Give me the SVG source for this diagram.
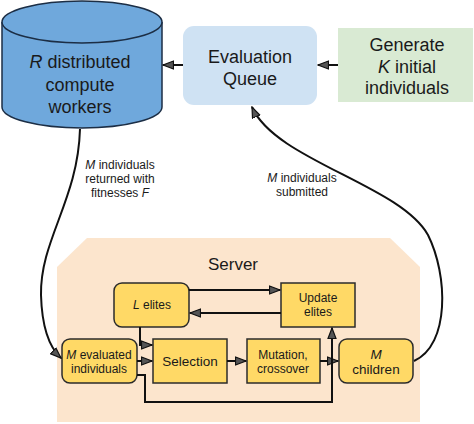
<svg xmlns="http://www.w3.org/2000/svg" width="474" height="424" viewBox="0 0 474 424">
<defs>
<marker id="ah" markerWidth="12" markerHeight="10" refX="11" refY="5" orient="auto" markerUnits="userSpaceOnUse">
<path d="M0.5,1 L11,5 L0.5,9 Z" fill="#555" stroke="#111" stroke-width="1.2"/>
</marker>
</defs>
<style>
text{font-family:"Liberation Sans",Arial,sans-serif;fill:#1a1a1a;text-anchor:middle}
.big{font-size:18px}
.sm{font-size:12px}
.md{font-size:13.5px}
.box{fill:#ffd966;stroke:#2b2b2b;stroke-width:1.5}
.cs{fill:none;stroke:#111;stroke-width:2;marker-end:url(#ah)}
</style>
<rect width="474" height="424" fill="#fff"/>
<g id="server">
<path d="M87,238 L390,238 L420,267 L420,422 L57,422 L57,267 Z" fill="#fce5cd"/>
<text x="233" y="270" style="font-size:17px">Server</text>
</g>
<g id="workers">
<path d="M2,22 L2,107 A80,21 0 0 0 162,107 L162,22" fill="#6fa8dc" stroke="#1c2e45" stroke-width="1.5"/>
<ellipse cx="82" cy="22" rx="80" ry="21" fill="#6fa8dc" stroke="#1c2e45" stroke-width="1.5"/>
<text class="big" x="80" y="68"><tspan font-style="italic">R</tspan> distributed</text>
<text class="big" x="80" y="91">compute</text>
<text class="big" x="80" y="113">workers</text>
</g>
<g id="queue">
<rect x="183" y="26" width="134" height="79" rx="11" fill="#cfe2f3"/>
<text class="big" x="250" y="63">Evaluation</text>
<text class="big" x="250" y="85">Queue</text>
</g>
<g id="generate">
<rect x="338" y="28" width="135" height="74" fill="#d9ead3"/>
<text class="big" x="407" y="51">Generate</text>
<text class="big" x="407" y="73"><tspan font-style="italic">K</tspan> initial</text>
<text class="big" x="407" y="94">individuals</text>
</g>
<g id="lelites">
<rect class="box" x="114" y="283" width="75" height="44" rx="8"/>
<text class="sm" x="152" y="309"><tspan font-style="italic">L</tspan> elites</text>
</g>
<g id="update">
<rect class="box" x="281" y="283" width="74" height="44"/>
<text class="sm" x="318" y="302">Update</text>
<text class="sm" x="318" y="316">elites</text>
</g>
<g id="evaluated">
<rect class="box" x="62" y="339" width="75" height="44" rx="8"/>
<text class="sm" x="99" y="359"><tspan font-style="italic">M</tspan> evaluated</text>
<text class="sm" x="99" y="373">individuals</text>
</g>
<g id="selection">
<rect class="box" x="153" y="339" width="74" height="44"/>
<text class="md" x="190" y="366">Selection</text>
</g>
<g id="mutation">
<rect class="box" x="247" y="339" width="73" height="44"/>
<text class="sm" x="283" y="359">Mutation,</text>
<text class="sm" x="283" y="373">crossover</text>
</g>
<g id="children">
<rect class="box" x="339" y="339" width="74" height="44" rx="8"/>
<text class="md" x="376" y="359" font-style="italic">M</text>
<text class="md" x="376" y="374">children</text>
</g>
<g id="connectors">
<path class="cs" d="M338,65 L318,65"/>
<path class="cs" d="M183,65 L163,65"/>
<path class="cs" d="M80,129 C78,200 40,240 41,295 C42,330 50,348 61,358"/>
<path class="cs" d="M414,361 C450,345 448,275 428,235 C400,185 275,160 252,107"/>
<path class="cs" d="M189,290 L280,290"/>
<path class="cs" d="M281,313 L190,313"/>
<path class="cs" d="M140,327 L140,345 L152,345"/>
<path class="cs" d="M137,361 L152,361"/>
<path class="cs" d="M227,361 L246,361"/>
<path class="cs" d="M320,361 L338,361"/>
<path class="cs" d="M137,375 L145,375 L145,402 L332,402 L332,328"/>
<text class="sm" x="120" y="169"><tspan font-style="italic">M</tspan> individuals</text>
<text class="sm" x="120" y="183">returned with</text>
<text class="sm" x="120" y="197">fitnesses <tspan font-style="italic">F</tspan></text>
<text class="sm" x="302" y="182"><tspan font-style="italic">M</tspan> individuals</text>
<text class="sm" x="302" y="196">submitted</text>
</g>
</svg>
